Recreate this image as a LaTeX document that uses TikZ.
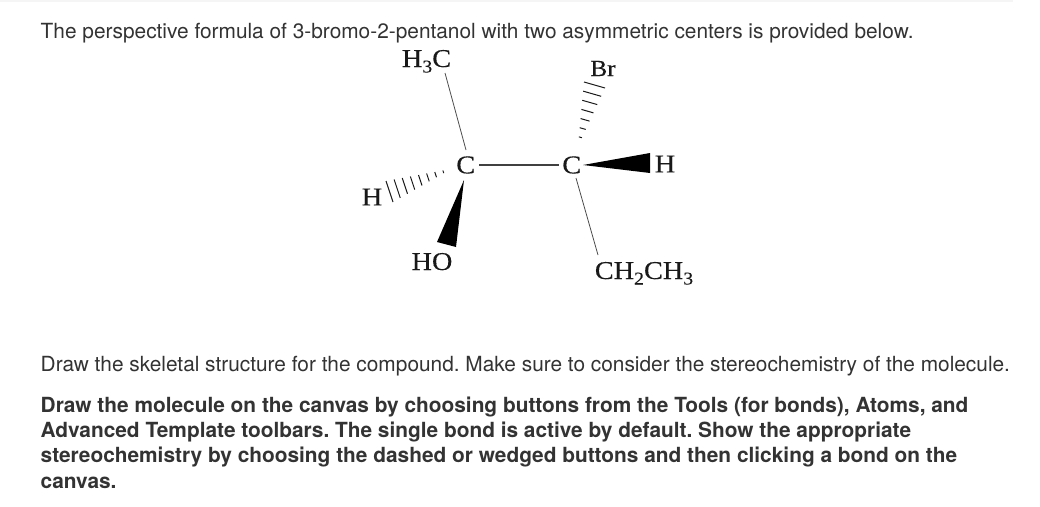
\documentclass[tikz,border=0pt]{standalone}
\usepackage{fontspec}
\setmainfont{Liberation Serif}
\newfontfamily\uifont{TeX Gyre Heros}
\newfontfamily\chemfont[FakeStretch=1.1,FakeBold=0.25]{Liberation Serif}
\usetikzlibrary{calc}
\newcommand{\lowr}[1]{\raisebox{-5.5pt}{\fontsize{18}{18}\selectfont #1}}
\tikzset{
 x=1pt,y=-1pt,
 atom/.style={font=\chemfont\fontsize{25.7}{26}\selectfont,inner sep=0pt,text=black!90},
 plain/.style={anchor=base west,inner sep=0pt,font=\uifont\fontsize{20.85}{24}\selectfont,text=black!80},
 strong/.style={anchor=base west,inner sep=0pt,font=\uifont\bfseries\fontsize{20.85}{24}\selectfont,text=black!80},
 bond/.style={draw=black!70,line width=0.8pt},
 mainbond/.style={draw=black!75,line width=1.1pt},
 hash/.style={draw=black!90,line width=1pt},
 wedge/.style={fill=black,draw=none}
}
\newcommand{\hashbond}[5]{%
 \foreach \i in {0,...,#4}{
  \pgfmathsetmacro{\t}{(\i+#5)/(#4+#5)}
  \draw[hash] ($(#1)!\t!(#2)$) -- ($(#1)!\t!(#3)$);
 }}
\begin{document}
\begin{tikzpicture}
\useasboundingbox (0,0) rectangle (1040,506);
\fill[white] (0,0) rectangle (1040,506);
\fill[black!4] (0,0) rectangle (1013,2);
\node[plain] (t1) at (40.5,38) {\frenchspacing The perspective formula of 3-bromo-2-pentanol with two asymmetric centers is provided below.};
\node[plain] (t2) at (40.5,371) {\frenchspacing Draw the skeletal structure for the compound. Make sure to consider the stereochemistry of the molecule.};
\node[strong] (b1) at (40.5,412) {\frenchspacing Draw the molecule on the canvas by choosing buttons from the Tools (for bonds), Atoms, and};
\node[strong] (b2) at (40.5,437.5) {\frenchspacing Advanced Template toolbars. The single bond is active by default. Show the appropriate};
\node[strong] (b3) at (40.5,462.5) {\frenchspacing stereochemistry by choosing the dashed or wedged buttons and then clicking a bond on the};
\node[strong] (b4) at (40.5,488) {\frenchspacing canvas.};
\node[atom] (c1) at (465.7,165) {C};
\node[atom] (c2) at (571.7,165) {C};
\node[atom,anchor=base] (me) at (426.5,67) {H\lowr{3}C};
\node[atom,anchor=base,font=\chemfont\fontsize{23}{23}\selectfont] (br) at (603,76) {Br};
\node[atom] (hr) at (665,164) {H};
\node[atom] (hl) at (372,197) {H};
\node[atom,anchor=base] (ho) at (432,270) {HO};
\node[atom,anchor=base] (et) at (644,279) {CH\lowr{2}CH\lowr{3}};
\coordinate (meb) at (445,73);
\coordinate (c1t) at (466,150);
\coordinate (c2b) at (576,178);
\coordinate (etb) at (598,255);
\draw[bond] (meb) -- (c1t);
\draw[bond] (c2b) -- (etb);
\draw[mainbond] ($(c1)+(13.3,0)$) -- ($(c2)+(-12.7,0)$);
\coordinate (c1w) at (464,180);
\coordinate (how1) at (437,242);
\coordinate (how2) at (456,247);
\fill[wedge] (c1w) -- (how1) -- (how2) -- cycle;
\coordinate (c2w) at (583,165);
\coordinate (hw1) at (650,153);
\coordinate (hw2) at (650,173);
\fill[wedge] (c2w) -- (hw1) -- (hw2) -- cycle;
\coordinate (c1h) at (451,169);
\coordinate (hla) at (386,181);
\coordinate (hlb) at (393,202);
\hashbond{c1h}{hla}{hlb}{7}{1}
\coordinate (c2h) at (578,146);
\coordinate (bra) at (584,82);
\coordinate (brb) at (605,88);
\hashbond{c2h}{bra}{brb}{6}{1}
\end{tikzpicture}
\end{document}
